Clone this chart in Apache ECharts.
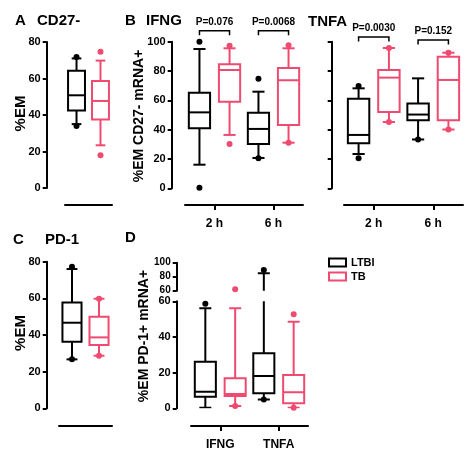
<!DOCTYPE html>
<html>
<head>
<meta charset="utf-8">
<script src="https://cdn.jsdelivr.net/npm/echarts@6/dist/echarts.min.js"></script>
<style>
html, body { margin: 0; padding: 0; background: #fff; }
#chart { width: 474px; height: 462px; }
</style>
</head>
<body>
<div id="chart"></div>
<script>
// groups and categories
var groups = ['LTBI', 'TB'];
var timeCats = ['2 h', '6 h'];
var cytoCats = ['IFNG', 'TNFA'];

// box values: [min, Q1, median, Q3, max], one row per category
// dots: [category index, value]

// A - CD27- %EM
var cd27Ltbi = [[35, 42.4, 50.8, 64.3, 71]];
var cd27Tb = [[23.4, 37.6, 47.7, 58.6, 69.8]];
var cd27LtbiDots = [[0, 71.8], [0, 34]];
var cd27TbDots = [[0, 74.7], [0, 17.9]];

// B - IFNG, %EM CD27- mRNA+
var ifngLtbi = [[16.1, 40.9, 51.8, 65.2, 95], [20.7, 30.2, 40.5, 51.6, 65.9]];
var ifngTb = [[36.4, 59, 80.7, 84.6, 95.5], [31.1, 43.2, 73.7, 82.1, 95.5]];
var ifngLtbiDots = [[0, 100], [0, 0.4], [1, 74.8], [1, 20.5]];
var ifngTbDots = [[0, 97.3], [0, 30.2], [1, 97.5], [1, 31]];
var ifngP = ['P=0.076', 'P=0.0068'];

// B - TNFA
var tnfaLtbi = [[23.4, 30.7, 36.4, 61, 68.2], [33.3, 46.4, 50.3, 57.8, 75]];
var tnfaTb = [[45.2, 52, 75.5, 80.7, 95.7], [40.1, 46.4, 73.9, 89.8, 92.5]];
var tnfaLtbiDots = [[0, 69.8], [0, 20.5], [1, 33.3]];
var tnfaTbDots = [[0, 95.7], [0, 45.2], [1, 92.5], [1, 40.1]];
var tnfaP = ['P=0.0030', 'P=0.152'];

// C - PD-1 %EM
var pd1Ltbi = [[26.7, 36.3, 46.7, 57.8, 76]];
var pd1Tb = [[28.7, 34.5, 38.7, 50, 59.8]];
var pd1LtbiDots = [[0, 77.3], [0, 26.7]];
var pd1TbDots = [[0, 59.8], [0, 28.7]];

// D - %EM PD-1+ mRNA+ (broken axis at 60)
var pd1mLtbi = [[0.3, 6.5, 9.3, 26.1, 56.1], [5, 8.4, 18.1, 30.8, 84.9]];
var pd1mTb = [[1.3, 6.9, 8, 16.8, 56.1], [0.3, 2.8, 9, 18.7, 48.6]];
var pd1mLtbiDots = [[0, 58.6], [1, 89.6], [1, 5]];
var pd1mTbDots = [[0, 62], [0, 1.3], [1, 52.7], [1, 0.3]];
var breakAt = 60;

var BLACK = '#000';
var PINK = '#ef4a70';
var FONT = '"Liberation Sans", Arial, sans-serif';

function withIndex(rows) {
	return rows.map(function (r, i) { return [i].concat(r); });
}

// box with whiskers, side = -1 left (LTBI) / +1 right (TB)
function boxItem(color, side) {
	return function (params, api) {
		var c = api.value(0);
		var band = api.size([1, 0])[0];
		var cx = api.coord([c, 0])[0] + side * band * 0.255;
		var w = band * 0.36, cw = w * 0.57;
		var y = [];
		for (var i = 1; i <= 5; i++) {
			y.push(api.coord([c, api.value(i)])[1]);
		}
		var ls = { stroke: color, lineWidth: 2, fill: null };
		return {
			type: 'group',
			children: [
				{ type: 'line', shape: { x1: cx, y1: y[4], x2: cx, y2: y[3] }, style: ls },
				{ type: 'line', shape: { x1: cx, y1: y[0], x2: cx, y2: y[1] }, style: ls },
				{ type: 'line', shape: { x1: cx - cw / 2, y1: y[4], x2: cx + cw / 2, y2: y[4] }, style: ls },
				{ type: 'line', shape: { x1: cx - cw / 2, y1: y[0], x2: cx + cw / 2, y2: y[0] }, style: ls },
				{ type: 'rect', shape: { x: cx - w / 2, y: y[3], width: w, height: y[1] - y[3] }, style: { stroke: color, lineWidth: 2, fill: '#fff' } },
				{ type: 'line', shape: { x1: cx - w / 2, y1: y[2], x2: cx + w / 2, y2: y[2] }, style: ls }
			]
		};
	};
}

function dotItem(color, side) {
	return function (params, api) {
		var c = api.value(0);
		var band = api.size([1, 0])[0];
		var p = api.coord([c, api.value(1)]);
		return {
			type: 'circle',
			shape: { cx: p[0] + side * band * 0.255, cy: p[1], r: 3 },
			style: { fill: color }
		};
	};
}

function bracketItem(texts, lifts) {
	return function (params, api) {
		var c = api.value(0);
		var band = api.size([1, 0])[0];
		var cx = api.coord([c, 0])[0], off = band * 0.255;
		var top = params.coordSys.y - lifts[params.dataIndex];
		return {
			type: 'group',
			children: [
				{ type: 'polyline', shape: { points: [[cx - off, top + 4.5], [cx - off, top], [cx + off, top], [cx + off, top + 4.5]] },
					style: { stroke: '#000', lineWidth: 1.5, fill: null } },
				{ type: 'text', style: { text: texts[params.dataIndex], x: cx, y: top - 8.5, align: 'center', verticalAlign: 'middle',
					font: 'bold 10px ' + FONT, fill: '#000' } }
			]
		};
	};
}

function boxSeries(name, color, side, axis, rows, clip) {
	return {
		type: 'custom', name: name, xAxisIndex: axis, yAxisIndex: axis,
		renderItem: boxItem(color, side), data: withIndex(rows),
		encode: { x: 0, y: [1, 2, 3, 4, 5] }, clip: !!clip, z: 2,
		itemStyle: { color: color }, silent: true
	};
}

function dotSeries(name, color, side, axis, dots) {
	return {
		type: 'custom', name: name, xAxisIndex: axis, yAxisIndex: axis,
		renderItem: dotItem(color, side), data: dots,
		encode: { x: 0, y: 1 }, clip: false, z: 3,
		itemStyle: { color: color }, silent: true
	};
}

function bracketSeries(axis, texts, lifts) {
	return {
		type: 'custom', xAxisIndex: axis, yAxisIndex: axis,
		renderItem: bracketItem(texts, lifts),
		data: texts.map(function (t, i) { return [i, 0]; }),
		encode: { x: 0, y: 1 }, clip: false, z: 3, silent: true
	};
}

var tickLabel = { color: '#000', fontWeight: 'bold', fontSize: 11, fontFamily: FONT, margin: 6 };

function xAx(grid, cats, offset, show) {
	return {
		type: 'category', gridIndex: grid, data: cats, offset: offset, show: show !== false,
		axisLine: { show: true, onZero: false, lineStyle: { color: '#000', width: 2 } },
		axisTick: { show: cats.length > 1, length: 5, lineStyle: { width: 2, color: '#000' }, alignWithLabel: true },
		axisLabel: { show: cats.length > 1, color: '#000', fontWeight: 'bold', fontSize: 12, fontFamily: FONT, margin: 13 },
		splitLine: { show: false }
	};
}

function yAx(grid, min, max, offset, labels, fontSize) {
	var lab = Object.assign({}, tickLabel, { show: labels !== false });
	if (fontSize) lab.fontSize = fontSize;
	return {
		type: 'value', gridIndex: grid, min: min, max: max, interval: 20, offset: offset,
		axisLine: { show: true, onZero: false, lineStyle: { color: '#000', width: 2 } },
		axisTick: { show: true, length: 4, lineStyle: { width: 2, color: '#000' } },
		axisLabel: lab,
		splitLine: { show: false }
	};
}

function upper(dots) { return dots.filter(function (d) { return d[1] > breakAt; }); }
function lower(dots) { return dots.filter(function (d) { return d[1] <= breakAt; }); }

function txt(text, x, y, size, rotate) {
	return {
		type: 'text', x: x, y: y, rotation: rotate ? Math.PI / 2 : 0,
		style: { text: text, fill: '#000', font: 'bold ' + size + 'px ' + FONT,
			align: rotate ? 'center' : 'left', verticalAlign: 'middle' }
	};
}

var chart = echarts.init(document.getElementById('chart'));
chart.setOption({
	backgroundColor: '#fff',
	animation: false,
	grid: [
		{ left: 65, top: 42, width: 47, height: 146, outerBoundsMode: 'none' },
		{ left: 185, top: 41.7, width: 118, height: 146.6, outerBoundsMode: 'none' },
		{ left: 344, top: 41.7, width: 119, height: 146.6, outerBoundsMode: 'none' },
		{ left: 59, top: 261.7, width: 53, height: 146.6, outerBoundsMode: 'none' },
		{ left: 191, top: 301.3, width: 117, height: 107, outerBoundsMode: 'none' },
		{ left: 191, top: 262.7, width: 117, height: 28, outerBoundsMode: 'none' }
	],
	xAxis: [
		xAx(0, [''], 17),
		xAx(1, timeCats, 16.7),
		xAx(2, timeCats, 16.7),
		xAx(3, [''], 17.7),
		xAx(4, cytoCats, 17.7),
		xAx(5, cytoCats, 0, false)
	],
	yAxis: [
		yAx(0, 0, 80, 18.3),
		yAx(1, 0, 100, 13.3),
		yAx(2, 0, 100, 12.3, false),
		yAx(3, 0, 80, 12.3),
		yAx(4, 0, breakAt, 14.3),
		yAx(5, breakAt, 100, 14.3, true, 10)
	],
	legend: {
		orient: 'vertical', left: 323, top: 252, itemWidth: 17, itemHeight: 8, itemGap: 3,
		selectedMode: false,
		textStyle: { color: '#000', fontWeight: 'bold', fontSize: 11, fontFamily: FONT },
		data: [
			{ name: groups[0], icon: 'rect', itemStyle: { color: '#fff', borderColor: BLACK, borderWidth: 2 } },
			{ name: groups[1], icon: 'rect', itemStyle: { color: '#fff', borderColor: PINK, borderWidth: 2 } }
		]
	},
	graphic: [
		txt('A', 15, 21, 15), txt('CD27-', 37, 21, 15),
		txt('B', 125, 21, 15), txt('IFNG', 146, 21, 15),
		txt('TNFA', 308, 22, 15),
		txt('C', 13, 240, 15), txt('PD-1', 45, 240, 15),
		txt('D', 125, 238, 15),
		txt('%EM', 21, 113.5, 15, true),
		txt('%EM CD27- mRNA+', 139, 116, 14, true),
		txt('%EM', 21, 333, 15, true),
		txt('%EM PD-1+ mRNA+', 144, 336, 14, true)
	],
	series: [
		boxSeries(groups[0], BLACK, -1, 0, cd27Ltbi),
		boxSeries(groups[1], PINK, 1, 0, cd27Tb),
		dotSeries(groups[0], BLACK, -1, 0, cd27LtbiDots),
		dotSeries(groups[1], PINK, 1, 0, cd27TbDots),

		boxSeries(groups[0], BLACK, -1, 1, ifngLtbi),
		boxSeries(groups[1], PINK, 1, 1, ifngTb),
		dotSeries(groups[0], BLACK, -1, 1, ifngLtbiDots),
		dotSeries(groups[1], PINK, 1, 1, ifngTbDots),
		bracketSeries(1, ifngP, [11, 11]),

		boxSeries(groups[0], BLACK, -1, 2, tnfaLtbi),
		boxSeries(groups[1], PINK, 1, 2, tnfaTb),
		dotSeries(groups[0], BLACK, -1, 2, tnfaLtbiDots),
		dotSeries(groups[1], PINK, 1, 2, tnfaTbDots),
		bracketSeries(2, tnfaP, [4.7, 1.7]),

		boxSeries(groups[0], BLACK, -1, 3, pd1Ltbi),
		boxSeries(groups[1], PINK, 1, 3, pd1Tb),
		dotSeries(groups[0], BLACK, -1, 3, pd1LtbiDots),
		dotSeries(groups[1], PINK, 1, 3, pd1TbDots),

		boxSeries(groups[0], BLACK, -1, 4, pd1mLtbi, true),
		boxSeries(groups[1], PINK, 1, 4, pd1mTb, true),
		dotSeries(groups[0], BLACK, -1, 4, lower(pd1mLtbiDots)),
		dotSeries(groups[1], PINK, 1, 4, lower(pd1mTbDots)),
		boxSeries(groups[0], BLACK, -1, 5, pd1mLtbi, true),
		boxSeries(groups[1], PINK, 1, 5, pd1mTb, true),
		dotSeries(groups[0], BLACK, -1, 5, upper(pd1mLtbiDots)),
		dotSeries(groups[1], PINK, 1, 5, upper(pd1mTbDots))
	]
});
</script>
</body>
</html>
